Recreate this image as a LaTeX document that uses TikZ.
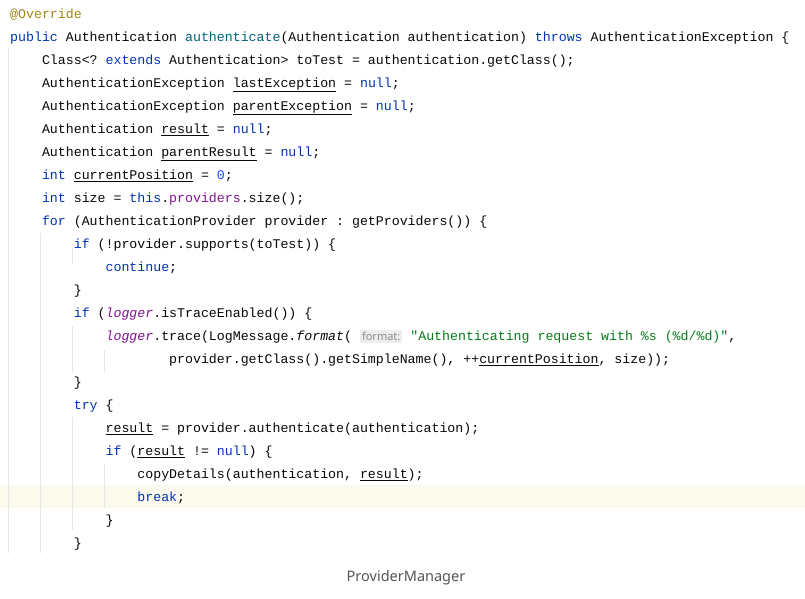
\documentclass[tikz,border=0pt]{standalone}
\usepackage{fontspec}
\setmonofont{Liberation Mono}
\setsansfont{Noto Sans}
\definecolor{kwc}{HTML}{0033B3}
\definecolor{fnc}{HTML}{00627A}
\definecolor{fldc}{HTML}{871094}
\definecolor{strc}{HTML}{067D17}
\definecolor{numc}{HTML}{1750EB}
\definecolor{annc}{HTML}{9E880D}
\definecolor{txtc}{HTML}{080808}
\definecolor{guidec}{HTML}{E6E6E6}
\definecolor{hlc}{HTML}{FCFAED}
\definecolor{hintbg}{HTML}{EDEDED}
\definecolor{hintfg}{HTML}{8C8C8C}
\definecolor{capc}{HTML}{555555}
\newcommand\kw[1]{\textcolor{kwc}{#1}}
\newcommand\fn[1]{\textcolor{fnc}{#1}}
\newcommand\fld[1]{\textcolor{fldc}{#1}}
\newcommand\lgr[1]{\textcolor{fldc}{\itshape #1}}
\newcommand\str[1]{\textcolor{strc}{#1}}
\newcommand\nm[1]{\textcolor{numc}{#1}}
\newcommand\ann[1]{\textcolor{annc}{#1}}
\newcommand\ulv[1]{\underline{#1}}
\newcommand\hint[1]{{\setlength\fboxsep{2pt}\colorbox{hintbg}{\sffamily\fontsize{11}{12}\selectfont\textcolor{hintfg}{#1}}}}
\tikzset{codeline/.style={anchor=base west,inner sep=0pt,text=txtc,font=\ttfamily\fontsize{13.25}{16}\selectfont},
guide/.style={guidec,line width=0.8pt}}
\newcommand\cl[3]{\node[codeline] (L#1) at ({10pt+7.95pt*#2},{-18.5pt-23pt*#1}) {#3};}
\begin{document}
\begin{tikzpicture}
\useasboundingbox[fill=white] (0,0) rectangle (805pt,-599pt);
\fill[hlc] (0,-485pt) rectangle (805pt,-508pt);
\draw[guide] (8pt,-48pt) -- (8pt,-553pt);
\draw[guide] (40pt,-233pt) -- (40pt,-553pt);
\draw[guide] (72pt,-248pt) -- (72pt,-264pt);
\draw[guide] (72pt,-326pt) -- (72pt,-372pt);
\draw[guide] (72pt,-417pt) -- (72pt,-530pt);
\draw[guide] (104pt,-350pt) -- (104pt,-372pt);
\draw[guide] (104pt,-464pt) -- (104pt,-508pt);
\cl{0}{0}{\ann{@Override}}
\cl{1}{0}{\kw{public} Authentication \fn{authenticate}(Authentication authentication) \kw{throws} AuthenticationException \{}
\cl{2}{4}{Class<? \kw{extends} Authentication> toTest = authentication.getClass();}
\cl{3}{4}{AuthenticationException \ulv{lastException} = \kw{null};}
\cl{4}{4}{AuthenticationException \ulv{parentException} = \kw{null};}
\cl{5}{4}{Authentication \ulv{result} = \kw{null};}
\cl{6}{4}{Authentication \ulv{parentResult} = \kw{null};}
\cl{7}{4}{\kw{int} \ulv{currentPosition} = \nm{0};}
\cl{8}{4}{\kw{int} size = \kw{this}.\fld{providers}.size();}
\cl{9}{4}{\kw{for} (AuthenticationProvider provider : getProviders()) \{}
\cl{10}{8}{\kw{if} (!provider.supports(toTest)) \{}
\cl{11}{12}{\kw{continue};}
\cl{12}{8}{\}}
\cl{13}{8}{\kw{if} (\lgr{logger}.isTraceEnabled()) \{}
\cl{14}{12}{\lgr{logger}.trace(LogMessage.\textit{format}( \hint{format:} \str{"Authenticating request with \%s (\%d/\%d)"},}
\cl{15}{20}{provider.getClass().getSimpleName(), ++\ulv{currentPosition}, size));}
\cl{16}{8}{\}}
\cl{17}{8}{\kw{try} \{}
\cl{18}{12}{\ulv{result} = provider.authenticate(authentication);}
\cl{19}{12}{\kw{if} (\ulv{result} != \kw{null}) \{}
\cl{20}{16}{copyDetails(authentication, \ulv{result});}
\cl{21}{16}{\kw{break};}
\cl{22}{12}{\}}
\cl{23}{8}{\}}
\node[font=\sffamily\fontsize{14.5}{16}\selectfont,text=capc] (cap) at (406pt,-578pt) {ProviderManager};
\end{tikzpicture}
\end{document}
